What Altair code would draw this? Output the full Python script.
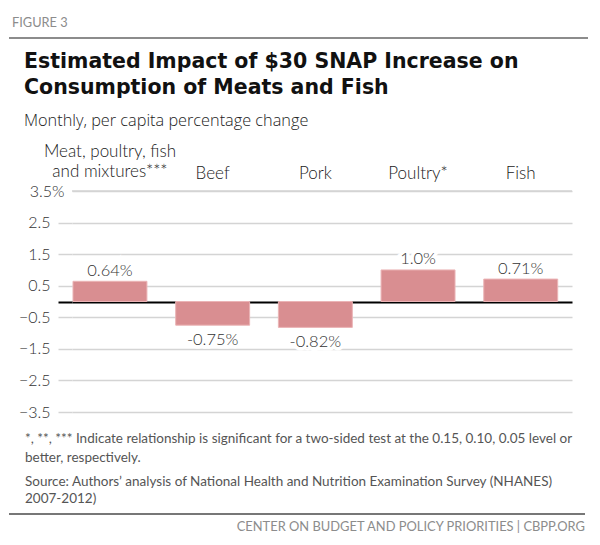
import altair as alt
import pandas as pd

# Categories, values and their printed labels
categories = ["Meat, poultry, fish and mixtures***", "Beef", "Pork", "Poultry*", "Fish"]
values = [0.64, -0.75, -0.82, 1.0, 0.71]
value_labels = ["0.64%", "-0.75%", "-0.82%", "1.0%", "0.71%"]

y_ticks = [-3.5, -2.5, -1.5, -0.5, 0, 0.5, 1.5, 2.5, 3.5]
y_top = 3.5

figure_label = "FIGURE 3"
title_lines = ["Estimated Impact of $30 SNAP Increase on", "Consumption of Meats and Fish"]
subtitle = "Monthly, per capita percentage change"
note_lines = [
    "*, **, *** Indicate relationship is significant for a two-sided test at the 0.15, 0.10, 0.05 level or",
    "better, respectively.",
]
source_lines = [
    "Source: Authors\u2019 analysis of National Health and Nutrition Examination Survey (NHANES)",
    "2007-2012)",
]
credit = "CENTER ON BUDGET AND POLICY PRIORITIES | CBPP.ORG"

FONT = "Lato"
TITLE_FONT = "DejaVu Sans"
SUB_FONT = "Open Sans"
BAR = "#d98e91"
GRID = "#d4d4d4"
MULTI = "Meat, poultry, fish and mixtures***"

df = pd.DataFrame({"category": categories, "value": values, "label": value_labels})

x_enc = alt.X(
    "category:N",
    sort=categories,
    title=None,
    scale=alt.Scale(paddingInner=0.28, paddingOuter=0.0744, align=0.065),
    axis=alt.Axis(
        orient="top",
        domain=False,
        ticks=False,
        labelAngle=0,
        labelPadding={"condition": {"test": f"datum.value == '{MULTI}'", "value": 31}, "value": 9},
        labelFont=FONT,
        labelFontSize=17,
        labelFontWeight=300,
        labelColor="#1a1a1a",
        labelLineHeight=20,
        labelOverlap=False,
        labelLimit=0,
        labelExpr=f"datum.label == '{MULTI}' ? ['Meat, poultry, fish', 'and mixtures***'] : datum.label",
    ),
)

y_scale = alt.Scale(domain=[-3.5, 3.5], nice=False, zero=False)

y_enc = alt.Y(
    "value:Q",
    title=None,
    scale=y_scale,
    axis=alt.Axis(
        values=y_ticks,
        tickCount=20,
        domain=False,
        tickSize=14,
        labelOverlap=False,
        labelBound=False,
        # the top tick is hidden so its label can sit where the tick would be
        tickColor={
            "condition": [
                {"test": "datum.value == 0", "value": "#000000"},
                {"test": "datum.value == 3.5", "value": "rgba(255,255,255,0)"},
            ],
            "value": GRID,
        },
        tickWidth={"condition": {"test": "datum.value == 0", "value": 2}, "value": 1.5},
        gridColor={"condition": {"test": "datum.value == 0", "value": "#000000"}, "value": GRID},
        gridWidth={"condition": {"test": "datum.value == 0", "value": 2}, "value": 1.5},
        gridOpacity=1,
        labelPadding={"condition": {"test": "datum.value == 3.5", "value": -6}, "value": 8},
        labelExpr="datum.value == 0 ? '' : (datum.value == 3.5 ? '3.5%' : format(datum.value, '.1f'))",
        labelFont=FONT,
        labelFontSize=16,
        labelFontWeight=300,
        labelColor="#333333",
    ),
)

# gridline along the top of the plot
top_grid = alt.Chart(pd.DataFrame({"y": [y_top]})).mark_rule(
    color=GRID, strokeWidth=1.5
).encode(y=alt.Y("y:Q", scale=y_scale))

bars = alt.Chart(df).mark_bar(color=BAR, stroke="#ebb4b6", strokeWidth=1).encode(x=x_enc, y=y_enc)

pos = alt.Chart(df).transform_filter("datum.value >= 0")
neg = alt.Chart(df).transform_filter("datum.value < 0")
text_style = dict(font=FONT, fontSize=16.5, fontWeight=300, baseline="alphabetic", align="center")


def value_text(base, dy):
    halo = base.mark_text(dy=dy, color="white", stroke="white", strokeWidth=7, **text_style).encode(
        x=alt.X("category:N", sort=categories), y="value:Q", text="label:N"
    )
    txt = base.mark_text(dy=dy, color="#333333", **text_style).encode(
        x=alt.X("category:N", sort=categories), y="value:Q", text="label:N"
    )
    return halo + txt


one = pd.DataFrame({"k": [0]})


def text_at(s, x, y, size, color, weight="normal", align="left", font=FONT):
    return alt.Chart(one).mark_text(
        text=s, font=font, fontSize=size, fontWeight=weight, color=color,
        align=align, baseline="alphabetic",
    ).encode(x=alt.value(x), y=alt.value(y))


def hline(x1, x2, y, color, width):
    return alt.Chart(one).mark_rule(color=color, strokeWidth=width).encode(
        x=alt.value(x1), x2=alt.value(x2), y=alt.value(y)
    )


decor = [
    text_at(figure_label, -60, -164, 12.8, "#8c8c8c"),
    hline(-63, 516, -153, "#8c8c8c", 2),
    text_at(title_lines[0], -48, -123, 20.5, "#111111", weight="bold", font=TITLE_FONT),
    text_at(title_lines[1], -48, -97, 20.5, "#111111", weight="bold", font=TITLE_FONT),
    text_at(subtitle, -48, -65, 16.3, "#222222", weight=300, font=SUB_FONT),
    text_at(note_lines[0], -47, 252, 13.5, "#555555"),
    text_at(note_lines[1], -47, 270.5, 13.5, "#555555"),
    text_at(source_lines[0], -47, 295, 13.5, "#555555"),
    text_at(source_lines[1], -47, 312, 13.5, "#555555"),
    hline(-63, 513, 323, "#777777", 2),
    text_at(credit, 513, 340, 12.9, "#8c8c8c", align="right"),
]

chart = alt.layer(
    top_grid, bars, value_text(pos, -5.5), value_text(neg, 20), *decor
).properties(
    width=500,
    height=221,
    padding={"left": 72, "top": 191, "right": 28, "bottom": 133},
    autosize=alt.AutoSizeParams(type="none"),
    background="white",
).configure_view(strokeWidth=0)

chart.save("out.html", embed_options={"renderer": "svg", "actions": False})
